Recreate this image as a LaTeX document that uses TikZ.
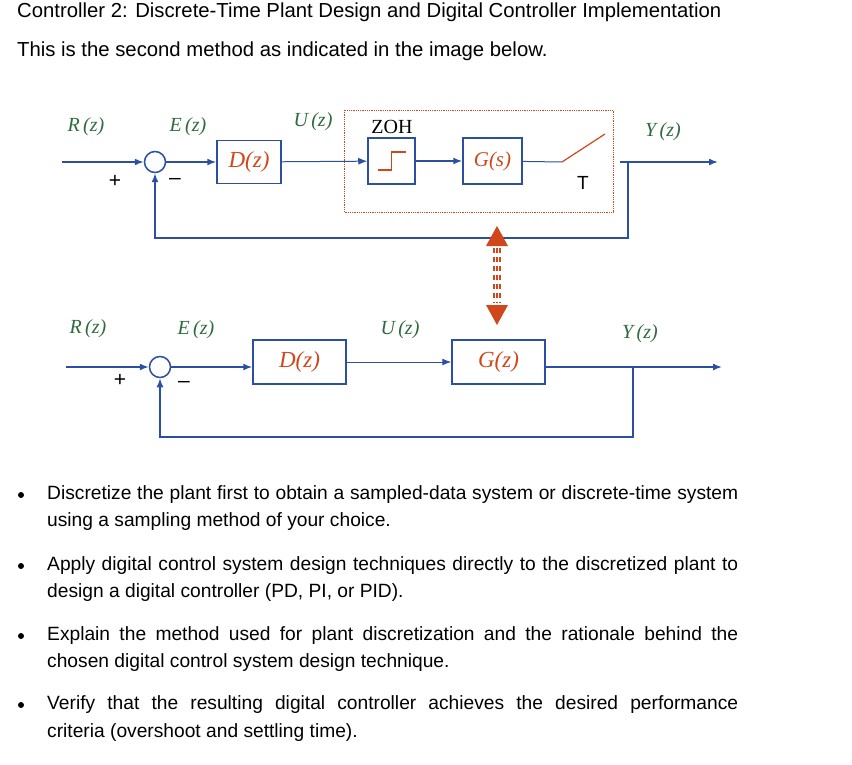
\documentclass[tikz,border=0pt]{standalone}
\usepackage{fontspec}
\setmainfont{Liberation Sans}
\newfontfamily\tms{Liberation Serif}
\usetikzlibrary{arrows.meta}
\definecolor{ln}{HTML}{2A4FA3}
\definecolor{gl}{HTML}{2F6B3F}
\definecolor{rd}{HTML}{D0471C}
\newcommand{\ml}[1]{{\tms\itshape #1\,(z)}}
\begin{document}
\begin{tikzpicture}[x=1pt,y=-1pt,
  wire/.style={draw=ln,line width=1.5pt},
  arr/.style={wire,-{Latex[length=9pt,width=7pt]}},
  blk/.style={draw=ln,line width=1.5pt,rectangle,inner sep=0pt},
  sum/.style={draw=ln,line width=1.5pt,circle,minimum size=21pt,inner sep=0pt},
  lab/.style={text=gl,font=\fontsize{20}{22}\selectfont},
  sgn/.style={font=\fontsize{21}{23}\selectfont},
  bt/.style={anchor=west,font=\fontsize{20.3}{24}\selectfont,inner sep=0pt},
  lt/.style={anchor=west,font=\fontsize{19.2}{24}\selectfont,inner sep=0pt},
  bul/.style={circle,fill=black,inner sep=0pt,minimum size=6pt}]
\useasboundingbox (0,0) rectangle (852,765);
\node[bt] (t1) at (17,12) {Controller 2: Discrete-Time Plant Design and Digital Controller Implementation};
\node[bt] (t2) at (17,51) {This is the second method as indicated in the image below.};
% top diagram
\draw[rd,densely dotted,line width=0.8pt] (344,110) rectangle (613,212);
\node[sum] (s1) at (155,162) {};
\coordinate (in1) at (62,162);
\node[blk,minimum width=64pt,minimum height=43pt] (d1) at (249,162) {\tms\itshape\textcolor{rd}{\fontsize{23}{24}\selectfont D(z)}};
\node[blk,minimum width=47pt,minimum height=46pt] (zoh) at (391.5,161) {};
\draw[rd,line width=1.5pt] (zoh.center)+(-14,9) -- +(0,9) -- +(0,-9) -- +(14,-9);
\node[blk,minimum width=59pt,minimum height=46pt] (g1) at (492.5,161) {\tms\itshape\textcolor{rd}{\fontsize{21}{22}\selectfont G(s)}};
\coordinate (sw1) at (562,162);
\coordinate (sw2) at (605,134);
\coordinate (o1) at (620,162);
\coordinate (b1) at (628,162);
\coordinate (out1) at (718,162);
\draw[arr] (in1) -- (s1);
\draw[arr] (s1) -- (d1);
\draw[arr,line width=1pt] (d1) -- (zoh);
\draw[arr] (zoh) -- (g1);
\draw[wire,line width=1pt] (g1) -- (sw1);
\draw[rd,line width=1.2pt] (sw1) -- (sw2);
\draw[arr] (o1) -- (out1);
\draw[arr] (b1) -- (628,238) -| (s1);
\node[lab] (r1) at (86,127) {\ml{R}};
\node[lab] (e1) at (188,127) {\ml{E}};
\node[lab] (u1) at (313,122) {\ml{U}};
\node[font=\tms\fontsize{20}{22}\selectfont] (zl) at (392,127) {ZOH};
\node[lab] (y1) at (663,132) {\ml{Y}};
\node[sgn] (p1) at (115,181) {+};
\node[sgn] (m1) at (175,181) {--};
\node[font=\fontsize{19}{21}\selectfont] (tl) at (583,183) {T};
% double arrow
\fill[rd] (497,226) -- (486,246) -- (508,246) -- cycle;
\fill[rd] (497,325) -- (486,305) -- (508,305) -- cycle;
\foreach \dx in {-3,0,3} \draw[rd,line width=1.3pt,dash pattern=on 5pt off 4pt] (497+\dx,248) -- (497+\dx,303);
% bottom diagram
\node[sum] (s2) at (160,367) {};
\coordinate (in2) at (66,367);
\node[blk,minimum width=93pt,minimum height=44pt] (d2) at (299.5,362) {\tms\itshape\textcolor{rd}{\fontsize{23}{24}\selectfont D(z)}};
\node[blk,minimum width=93pt,minimum height=44pt] (g2) at (498.5,362) {\tms\itshape\textcolor{rd}{\fontsize{23}{24}\selectfont G(z)}};
\coordinate (b2) at (633,367);
\coordinate (out2) at (722,367);
\draw[arr] (in2) -- (s2);
\draw[arr] (s2) -- (d2.west|-s2);
\draw[arr,line width=1pt] (d2) -- (g2);
\draw[arr] (g2.east|-b2) -- (out2);
\draw[arr] (b2) -- (633,437) -| (s2);
\node[lab] (r2) at (88,329) {\ml{R}};
\node[lab] (e2) at (196,330) {\ml{E}};
\node[lab] (u2) at (400,330) {\ml{U}};
\node[lab] (y2) at (640,334) {\ml{Y}};
\node[sgn] (p2) at (120,380) {+};
\node[sgn] (m2) at (184,384) {--};
% bullets
\foreach \y/\n in {495/a,566/b,636/c,705/d} \node[bul] (bu\n) at (21,\y) {};
\node[lt] (l1) at (47,495) {\makebox[691pt][s]{Discretize the plant first to obtain a sampled-data system or discrete-time system}};
\node[lt] (l2) at (47,522) {using a sampling method of your choice.};
\node[lt] (l3) at (47,566) {\makebox[691pt][s]{Apply digital control system design techniques directly to the discretized plant to}};
\node[lt] (l4) at (47,593) {design a digital controller (PD, PI, or PID).};
\node[lt] (l5) at (47,636) {\makebox[691pt][s]{Explain the method used for plant discretization and the rationale behind the}};
\node[lt] (l6) at (47,663) {chosen digital control system design technique.};
\node[lt] (l7) at (47,705) {\makebox[691pt][s]{Verify that the resulting digital controller achieves the desired performance}};
\node[lt] (l8) at (47,733) {criteria (overshoot and settling time).};
\end{tikzpicture}
\end{document}
